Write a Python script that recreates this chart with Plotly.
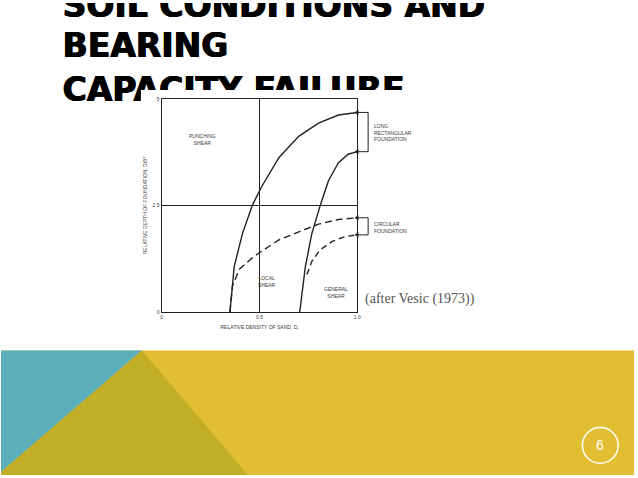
import plotly.graph_objects as go

# slide title
TITLE_LINES = ["SOIL CONDITIONS AND", "BEARING", "CAPACITY FAILURE"]

# Vesic (1973) chart
DR_TICKS = [0, 0.5, 1.0]
DR_TICK_TEXT = ["0", "0.5", "1.0"]
DEPTH_TICKS = [0, 2.5, 5]
DEPTH_TICK_TEXT = ["0", "2.5", "5"]
Y_MAX = 5

# long rectangular foundation (solid)
rect_upper_x = [0.349, 0.371, 0.413, 0.463, 0.509, 0.599, 0.701, 0.802, 0.904, 1.0]
rect_upper_y = [0.0, 1.07, 1.84, 2.50, 2.92, 3.62, 4.12, 4.43, 4.62, 4.68]
rect_lower_x = [0.706, 0.735, 0.768, 0.811, 0.853, 0.904, 0.954, 1.0]
rect_lower_y = [0.0, 1.07, 1.84, 2.50, 3.08, 3.50, 3.70, 3.76]

# circular foundation (dashed)
circ_upper_x = [0.349, 0.362, 0.396, 0.463, 0.509, 0.599, 0.701, 0.802, 0.904, 1.0]
circ_upper_y = [0.0, 0.61, 1.00, 1.27, 1.42, 1.69, 1.88, 2.06, 2.17, 2.21]
circ_lower_x = [0.743, 0.768, 0.811, 0.870, 0.938, 1.0]
circ_lower_y = [0.88, 1.19, 1.46, 1.65, 1.77, 1.81]

zone_labels = ["PUNCHING<br>SHEAR", "LOCAL<br>SHEAR", "GENERAL<br>SHEAR"]
zone_x = [0.21, 0.54, 0.89]
zone_y = [4.05, 0.72, 0.46]

INK = '#222222'
TEAL = '#5aafba'
OLIVE = '#c3ae27'
YELLOW = '#e2be32'

fig = go.Figure()

# title text (helper subplot in pixel units)
fig.add_trace(go.Scatter(
    x=[62] * len(TITLE_LINES), y=[6, 46, 91],
    mode='text', text=TITLE_LINES, textposition='middle right',
    textfont=dict(family='DejaVu Sans, Liberation Sans', size=33, color='#000000',
                  weight=900, shadow='0.8px 0 0 #000, -0.4px 0 0 #000'),
    hoverinfo='skip', showlegend=False, xaxis='x', yaxis='y'))

# white scan background that hides the bottom of the third title line
fig.add_trace(go.Scatter(
    x=[141, 488, 488, 141, 141], y=[88, 88, 346, 346, 88],
    mode='lines', fill='toself', fillcolor='#ffffff', line=dict(width=0),
    hoverinfo='skip', showlegend=False, xaxis='x', yaxis='y'))

# the curves
fig.add_trace(go.Scatter(x=rect_upper_x, y=rect_upper_y, mode='lines',
                         line=dict(color=INK, width=1.4), showlegend=False,
                         xaxis='x2', yaxis='y2'))
fig.add_trace(go.Scatter(x=rect_lower_x, y=rect_lower_y, mode='lines',
                         line=dict(color=INK, width=1.4), showlegend=False,
                         xaxis='x2', yaxis='y2'))
fig.add_trace(go.Scatter(x=circ_upper_x, y=circ_upper_y, mode='lines',
                         line=dict(color=INK, width=1.4, dash='7px,4px'),
                         showlegend=False, xaxis='x2', yaxis='y2'))
fig.add_trace(go.Scatter(x=circ_lower_x, y=circ_lower_y, mode='lines',
                         line=dict(color=INK, width=1.4, dash='6px,4px'),
                         showlegend=False, xaxis='x2', yaxis='y2'))

# arrowheads where the brackets meet the curve ends
ends = [rect_upper_y[-1], rect_lower_y[-1], circ_upper_y[-1], circ_lower_y[-1]]
fig.add_trace(go.Scatter(x=[1.0] * len(ends), y=ends, mode='markers',
                         marker=dict(symbol='triangle-left', size=5, color=INK),
                         cliponaxis=False, showlegend=False,
                         xaxis='x2', yaxis='y2'))

shapes = [
    # bottom band
    dict(type='rect', xref='x', yref='y', x0=0, x1=638, y0=352, y1=478,
         fillcolor=YELLOW, line=dict(width=0), layer='below'),
    dict(type='path', xref='x', yref='y', path='M 0 352 L 142 352 L 0 475 Z',
         fillcolor=TEAL, line=dict(width=0), layer='below'),
    dict(type='path', xref='x', yref='y', path='M 142 352 L 249 478 L 0 478 L 0 475 Z',
         fillcolor=OLIVE, line=dict(width=0), layer='below'),
    # page number circle
    dict(type='circle', xref='x', yref='y', x0=586, x1=622, y0=430, y1=466,
         line=dict(color='#ffffff', width=1.5), layer='below'),
]

# brackets for the foundation types
for top, bottom in [(rect_upper_y[-1], rect_lower_y[-1]),
                    (circ_upper_y[-1], circ_lower_y[-1])]:
    t, b = top / Y_MAX, bottom / Y_MAX
    shapes.append(dict(type='path', xref='x2 domain', yref='y2 domain',
                       path=f'M 1.0 {t} L 1.056 {t} L 1.056 {b} L 1.0 {b}',
                       line=dict(color=INK, width=1)))

small = dict(family='Liberation Sans, Arial', size=5, color='#3a3a3a')
annotations = []
for label, zx, zy in zip(zone_labels, zone_x, zone_y):
    annotations.append(dict(x=zx, y=zy, xref='x2', yref='y2', text=label,
                            showarrow=False, font=small))

annotations += [
    dict(x=374, y=131, xref='x', yref='y', xanchor='left', align='left',
         text='LONG<br>RECTANGULAR<br>FOUNDATION', showarrow=False, font=small),
    dict(x=374, y=227, xref='x', yref='y', xanchor='left', align='left',
         text='CIRCULAR<br>FOUNDATION', showarrow=False, font=small),
    dict(x=422, y=300, xref='x', yref='y', text='(after Vesic (1973))',
         showarrow=False,
         font=dict(family='Liberation Serif, Times New Roman', size=14, color='#555555')),
    dict(x=604, y=448, xref='x', yref='y', text='6', showarrow=False,
         font=dict(family='Liberation Sans, Arial', size=14, color='#ffffff')),
]

fig.update_layout(
    width=638, height=478,
    margin=dict(l=0, r=0, t=0, b=0),
    paper_bgcolor='#ffffff', plot_bgcolor='rgba(0,0,0,0)',
    showlegend=False,
    shapes=shapes, annotations=annotations,
    xaxis=dict(domain=[0, 1], range=[0, 638], visible=False, fixedrange=True),
    yaxis=dict(domain=[0, 1], range=[478, 0], visible=False, fixedrange=True),
    xaxis2=dict(domain=[162 / 638, 359 / 638], anchor='y2', range=[0, 1],
                tickvals=DR_TICKS, ticktext=DR_TICK_TEXT,
                showgrid=True, gridcolor=INK, gridwidth=1, zeroline=False,
                showline=True, mirror=True, linecolor=INK, linewidth=1.4,
                ticks='', tickfont=small, fixedrange=True,
                title=dict(text='RELATIVE DENSITY OF SAND, D<sub>r</sub>',
                           font=small, standoff=6)),
    yaxis2=dict(domain=[(478 - 313) / 478, (478 - 97) / 478], anchor='x2',
                range=[0, Y_MAX], tickvals=DEPTH_TICKS, ticktext=DEPTH_TICK_TEXT,
                showgrid=True, gridcolor=INK, gridwidth=1, zeroline=False,
                showline=True, mirror=True, linecolor=INK, linewidth=1.4,
                ticks='', tickfont=small, fixedrange=True,
                title=dict(text='RELATIVE DEPTH OF FOUNDATION, D/B*',
                           font=small, standoff=4)),
)

fig.write_html(
    "out.html",
    config={'displayModeBar': False, 'responsive': False},
    post_script=("document.body.style.margin='0';"
                 "document.body.style.overflow='hidden';"
                 "document.documentElement.style.overflow='hidden';"),
)
